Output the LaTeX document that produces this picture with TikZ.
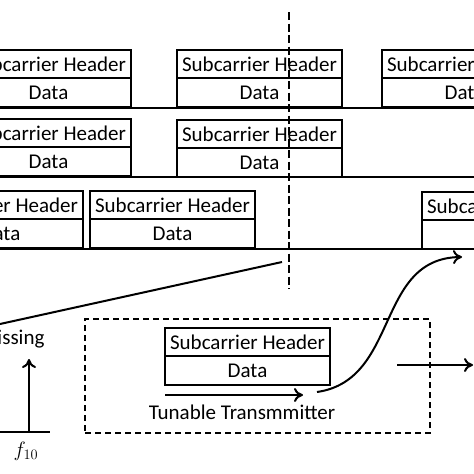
\documentclass[tikz,border=0pt]{standalone}
\usepackage{fontspec}
\setmainfont{Carlito}
\usetikzlibrary{shapes,arrows,arrows.meta,positioning}

\begin{document}
\begin{tikzpicture}[
    x=1pt, y=-1pt,
    hdr/.style={
        rectangle,
        draw,
        line width=2.4pt,
        minimum width=165pt,
        minimum height=28.5pt,
        inner sep=0pt,
        outer sep=0pt,
        font=\fontsize{21}{23}\selectfont
    },
    data/.style={hdr},
    base/.style={line width=2pt},
    arr/.style={-{To[length=9pt,width=14pt]}, line width=2pt},
    node distance=0pt
]
    \useasboundingbox (0,0) rectangle (474,474);
    \clip (0,0) rectangle (474,474);

    % First row of subcarriers
    \node[hdr] (hdrA) at (48.5,64) {Subcarrier Header};
    \node[data, below=of hdrA] (datA) {Data};
    \node[hdr] (hdrB) at (259.5,64) {Subcarrier Header};
    \node[data, below=of hdrB] (datB) {Data};
    \node[hdr] (hdrC) at (464.5,64) {Subcarrier Header};
    \node[data, below=of hdrC] (datC) {Data};
    \draw[base] (0,108) -- (474,108);

    % Second row of subcarriers
    \node[hdr] (hdrD) at (48.5,133) {Subcarrier Header};
    \node[data, below=of hdrD] (datD) {Data};
    \node[hdr] (hdrE) at (259.5,134) {Subcarrier Header};
    \node[data, below=of hdrE] (datE) {Data};
    \draw[base] (0,177) -- (474,177);

    % Third row of subcarriers
    \node[hdr] (hdrF) at (0.5,205) {Subcarrier Header};
    \node[data, below=of hdrF] (datF) {Data};
    \node[hdr] (hdrG) at (172.5,205) {Subcarrier Header};
    \node[data, below=of hdrG] (datG) {Data};
    \node[hdr] (hdrH) at (504.5,206) {Subcarrier Header};
    \node[data, below=of hdrH] (datH) {Data};
    \draw[base] (0,249) -- (474,249);

    % Cut position
    \coordinate (cutTop) at (289,12);
    \coordinate (cutBot) at (289,289);
    \draw[line width=2.4pt, dash pattern=on 8pt off 3.5pt] (cutTop) -- (cutBot);

    % Missing subcarrier
    \node[anchor=east, font=\fontsize{21}{23}\selectfont] (missing) at (48,339) {Missing};
    \coordinate (zoomEnd) at (282,262);
    \draw[base] (0,324) -- (zoomEnd);
    \coordinate (axisL) at (0,432);
    \coordinate (axisR) at (50,432);
    \draw[base] (axisL) -- (axisR);
    \coordinate (f10) at (29,432);
    \coordinate (f10top) at (29,359);
    \draw[arr] (f10) -- (f10top);
    \node[font=\fontsize{22}{24}\selectfont] (f10lbl) at (26,451) {$f_{10}$};

    % Tunable transmitter
    \node[draw, line width=2pt, dash pattern=on 6pt off 4pt, minimum width=345pt, minimum height=114pt] (tx) at (257.5,376) {};
    \node[hdr] (hdrT) at (247.5,342) {Subcarrier Header};
    \node[data, below=of hdrT] (datT) {Data};
    \coordinate (tuneL) at (165,395);
    \coordinate (tuneR) at (303,395);
    \draw[arr] (tuneL) -- (tuneR);
    \node[font=\fontsize{21}{23}\selectfont] (tunelbl) at (242,412) {Tunable Transmmitter};

    % Insert into third row
    \coordinate (insStart) at (317,392);
    \coordinate (insEnd) at (462,257);
    \draw[arr] (insStart) .. controls (400,380) and (375,258) .. (insEnd);

    % Output
    \coordinate (outL) at (397,365);
    \coordinate (outR) at (473,365);
    \draw[arr] (outL) -- (outR);

\end{tikzpicture}
\end{document}
